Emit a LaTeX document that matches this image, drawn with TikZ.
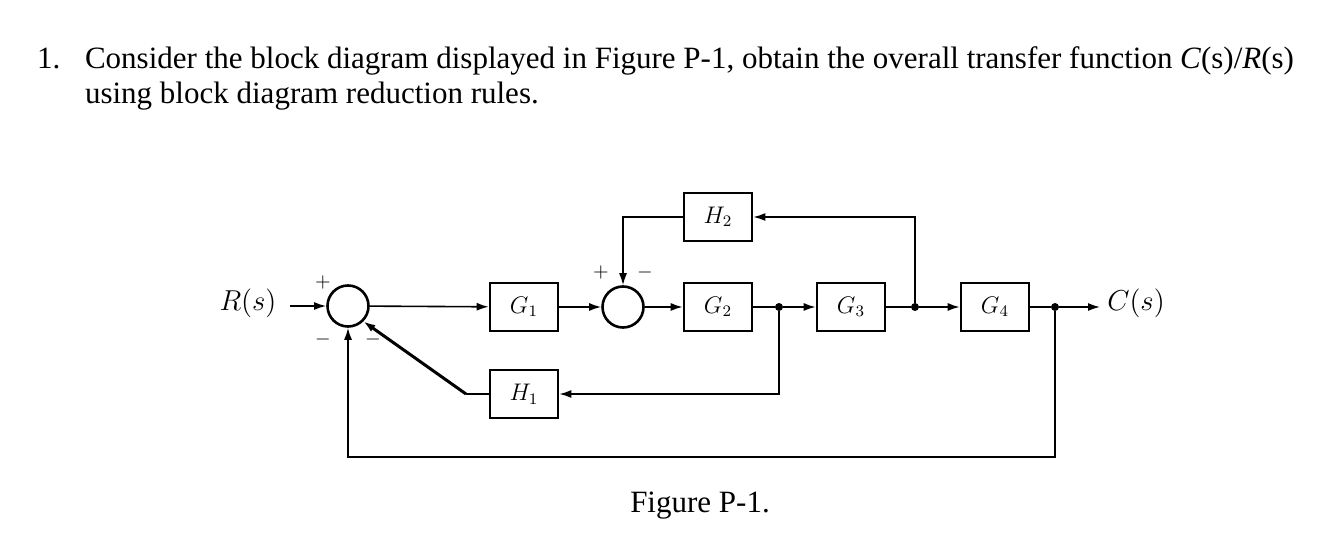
\documentclass[tikz,border=0pt]{standalone}
\usepackage{fontspec}
\setmainfont{Liberation Serif}
\usetikzlibrary{arrows.meta}
\begin{document}
\begin{tikzpicture}[x=0.5pt,y=-0.5pt,
  blk/.style={draw,line width=1.3pt,minimum width=34pt,minimum height=24pt,inner sep=0pt,font=\fontsize{12}{14}\selectfont},
  sum/.style={draw,circle,line width=1.3pt,minimum size=20.5pt,inner sep=0pt},
  dot/.style={circle,fill,inner sep=0pt,minimum size=4pt},
  ln/.style={line width=0.8pt},
  ar/.style={ln,-{Latex[length=6pt,width=4pt]}},
  sg/.style={font=\fontsize{10}{10}\selectfont},
  tx/.style={font=\fontsize{15.5}{18}\selectfont}]
\useasboundingbox (0,0) rectangle (1327,555);
\node[anchor=base west,tx] (n1) at (30,69) {1.};
\node[anchor=base west,tx] (t1) at (78,69) {Consider the block diagram displayed in Figure P-1, obtain the overall transfer function \textit{C}(s)/\textit{R}(s)};
\node[anchor=base west,tx] (t2) at (78,104) {using block diagram reduction rules.};
\node[tx] (fig) at (700,506) {Figure P-1.};

\node[sum] (s1) at (348,306) {};
\node[sum] (s2) at (623,307) {};
\node[blk] (g1) at (524,307) {$G_1$};
\node[blk] (g2) at (718,307) {$G_2$};
\node[blk] (g3) at (851,307) {$G_3$};
\node[blk] (g4) at (995,307) {$G_4$};
\node[blk] (h2) at (718,217) {$H_2$};
\node[blk] (h1) at (524,394) {$H_1$};
\node[font=\fontsize{14}{16}\selectfont] (r) at (248,303) {$R(s)$};
\node[font=\fontsize{14}{16}\selectfont] (c) at (1136,303) {$C(s)$};
\node[dot] (d1) at (779,307) {};
\node[dot] (d2) at (915,307) {};
\node[dot] (d3) at (1055,307) {};
\coordinate (rin) at (290,306);
\coordinate (cout) at (1100,307);

\draw[ar] (rin) -- (s1);
\draw[ar] (s1) -- (g1);
\draw[ar] (g1) -- (s2);
\draw[ar] (s2) -- (g2);
\draw[ln] (g2) -- (d1);
\draw[ar] (d1) -- (g3);
\draw[ln] (g3) -- (d2);
\draw[ar] (d2) -- (g4);
\draw[ln] (g4) -- (d3);
\draw[ar] (d3) -- (cout);
\draw[ar] (d2) |- (h2);
\draw[ar] (h2.west) -| (s2.north);
\draw[ar] (d1) |- (h1);
\coordinate (hb) at (466,394);
\draw[ln] (h1.west) -- (hb);
\draw[ar,line width=1.5pt] (hb) -- (s1.south east);
\draw[ar] (d3) |- (348,457) -- (s1.south);

\node[sg] (p1) at (323,283) {$+$};
\node[sg] (m1) at (323,340) {$-$};
\node[sg] (m2) at (373,340) {$-$};
\node[sg] (p2) at (601,273) {$+$};
\node[sg] (m3) at (645,273) {$-$};
\end{tikzpicture}
\end{document}
